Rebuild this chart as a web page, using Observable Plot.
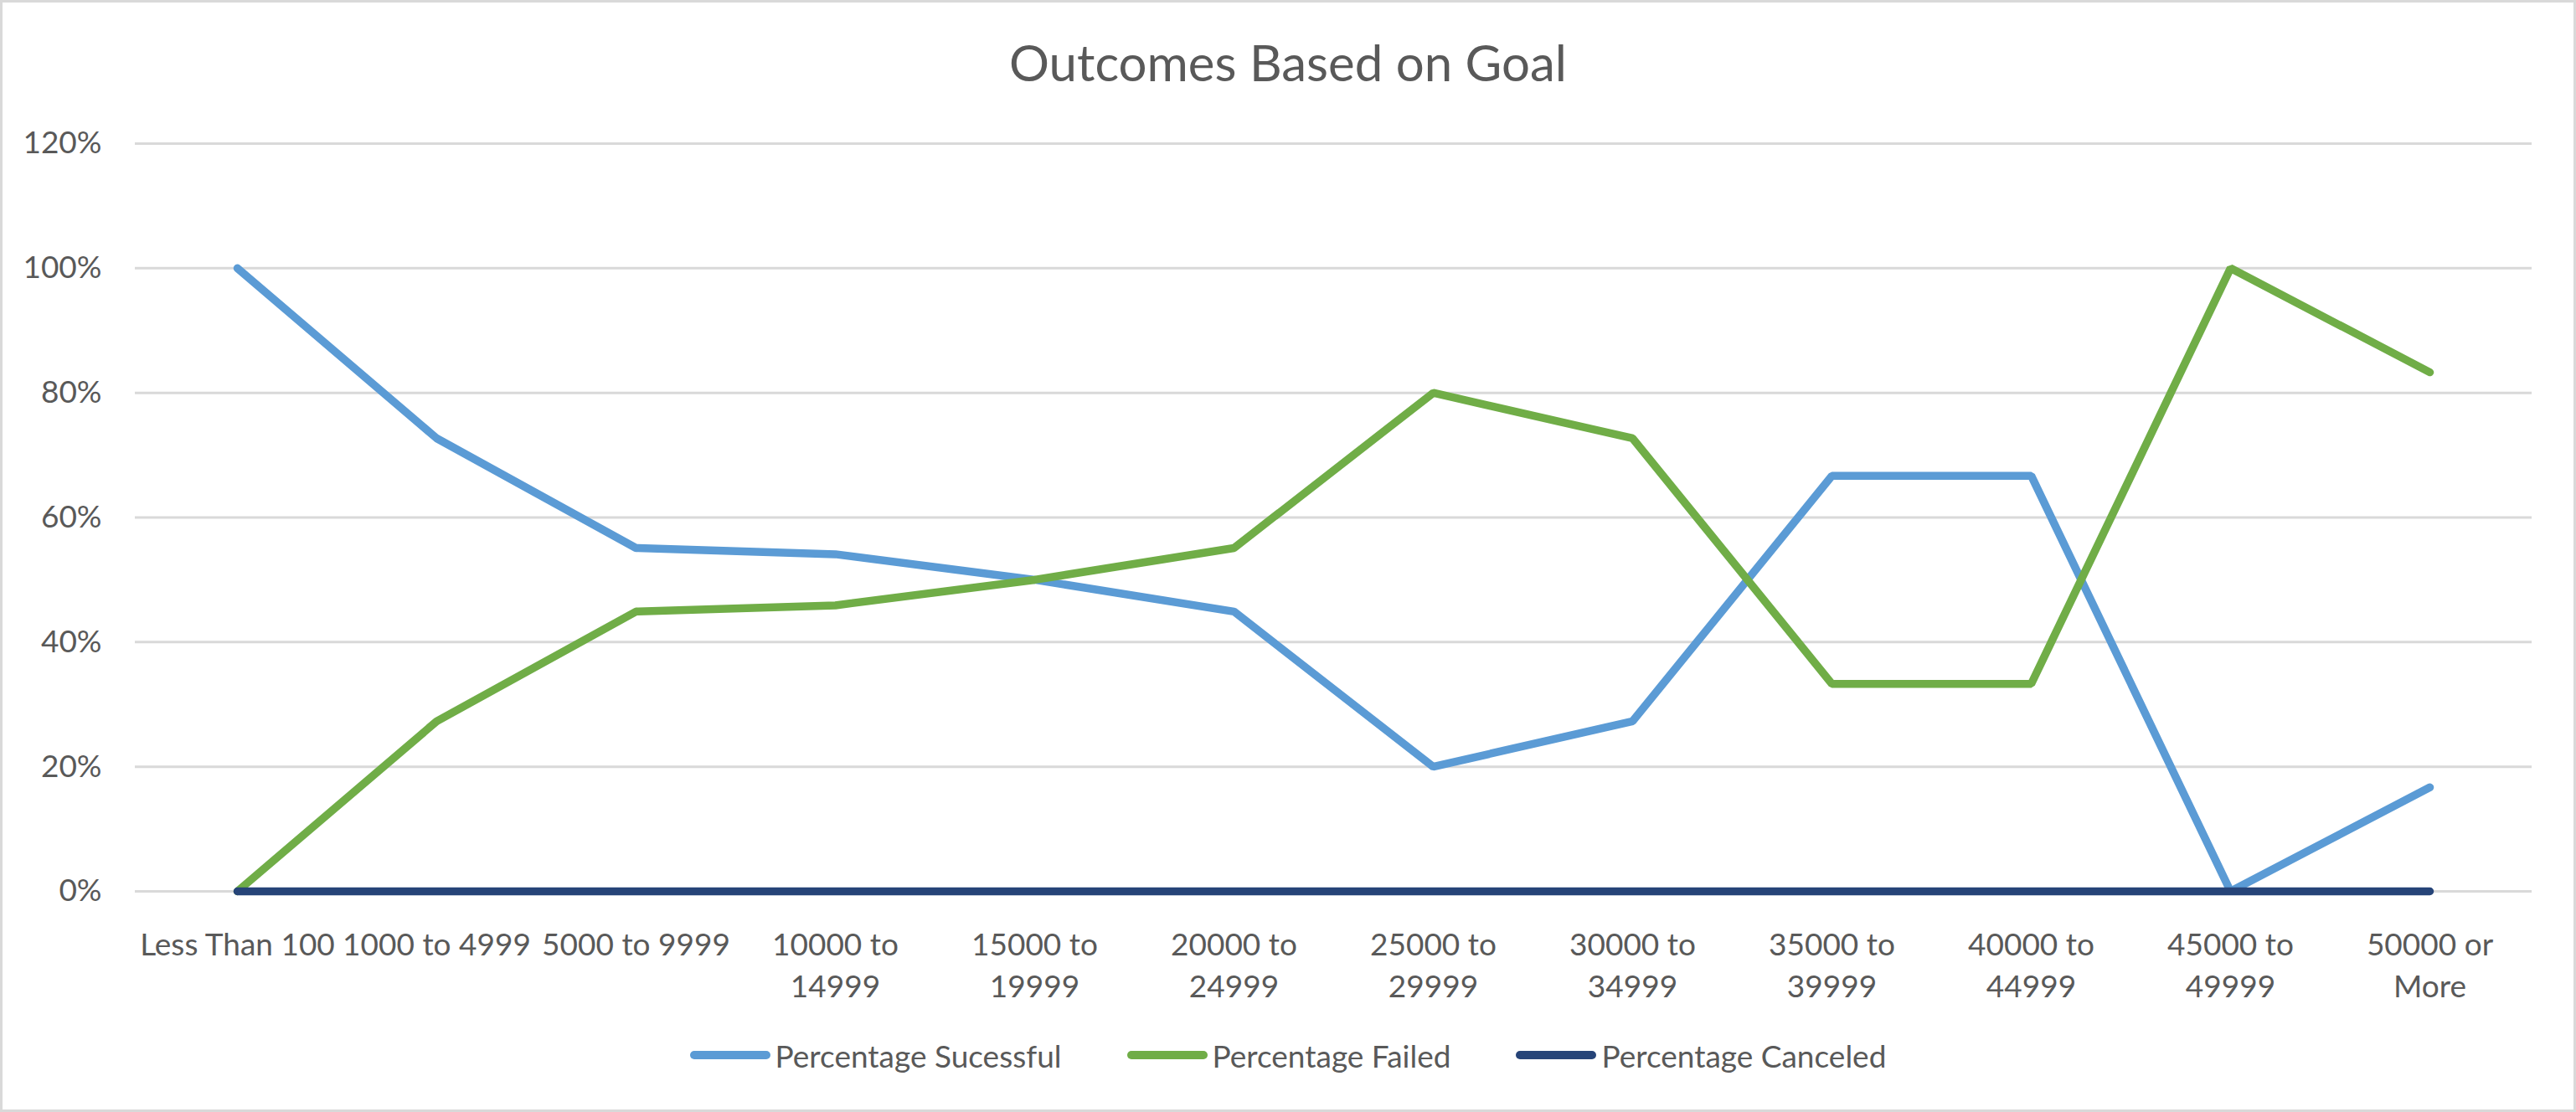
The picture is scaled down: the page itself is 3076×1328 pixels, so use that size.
<!DOCTYPE html>
<html>
<head>
<meta charset="utf-8">
<script src="https://cdn.jsdelivr.net/npm/d3@7"></script>
<script src="https://cdn.jsdelivr.net/npm/@observablehq/plot@0.6"></script>
<style>
  html, body { margin: 0; padding: 0; background: #fff; }
  #chart { position: relative; width: 3076px; height: 1328px; background: #fff; font-family: Lato, "Open Sans", sans-serif; color: #595959; overflow: hidden; }
  #frame { position: absolute; left: 0; top: 0; width: 3076px; height: 1328px; box-sizing: border-box; border: 3px solid #d9d9d9; pointer-events: none; }
  #title { position: absolute; left: 0; top: 44px; width: 3076px; text-align: center; font-size: 60px; line-height: 60px; color: #595959; }
  #plot { position: absolute; left: 0; top: 0; }
  #legend { position: absolute; left: 0; top: 1235px; width: 3076px; height: 50px; display: flex; justify-content: center; align-items: center; gap: 78px; font-size: 37px; color: #595959; }
  .item { display: flex; align-items: center; }
  .sw { width: 96px; height: 10px; border-radius: 5px; margin-right: 6px; }
</style>
</head>
<body>
<div id="chart">
  <div id="plot"></div>
  <div id="title"></div>
  <div id="legend"></div>
  <div id="frame"></div>
</div>
<script>
const titleText = "Outcomes Based on Goal";
const categories = ["Less Than 100", "1000 to 4999", "5000 to 9999", "10000 to 14999", "15000 to 19999", "20000 to 24999", "25000 to 29999", "30000 to 34999", "35000 to 39999", "40000 to 44999", "45000 to 49999", "50000 or More"];
const tickLabels = ["Less Than 100", "1000 to 4999", "5000 to 9999", "10000 to\n14999", "15000 to\n19999", "20000 to\n24999", "25000 to\n29999", "30000 to\n34999", "35000 to\n39999", "40000 to\n44999", "45000 to\n49999", "50000 or\nMore"];
const seriesNames = ["Percentage Sucessful", "Percentage Failed", "Percentage Canceled"];
const seriesColors = ["#5B9BD5", "#70AD47", "#264478"];
const successful = [100, 72.7, 55.1, 54.1, 50, 44.9, 20, 27.3, 66.7, 66.7, 0, 16.7];
const failed = [0, 27.3, 44.9, 45.9, 50, 55.1, 80, 72.7, 33.3, 33.3, 100, 83.3];
const canceled = [0, 0, 0, 0, 0, 0, 0, 0, 0, 0, 0, 0];
const yTicks = [0, 20, 40, 60, 80, 100, 120];

const seriesValues = [successful, failed, canceled];
const rows = [];
seriesNames.forEach((s, i) => {
  categories.forEach((c, j) => rows.push({series: s, category: c, value: seriesValues[i][j]}));
});

document.getElementById("title").textContent = titleText;

const plot = Plot.plot({
  width: 3076,
  height: 1200,
  marginTop: 171,
  marginBottom: 136,
  marginLeft: 161,
  marginRight: 53,
  style: {fontFamily: "Lato, 'Open Sans', sans-serif", fontSize: "37px", color: "#595959", background: "transparent"},
  x: {type: "point", domain: categories, padding: 0.5},
  y: {domain: [0, 120]},
  color: {domain: seriesNames, range: seriesColors},
  marks: [
    Plot.gridY(yTicks, {stroke: "#d9d9d9", strokeOpacity: 1, strokeWidth: 3}),
    Plot.axisY({ticks: yTicks, tickSize: 0, tickPadding: 40, tickFormat: d => d + "%", label: null, fontSize: 37}),
    Plot.axisX({tickSize: 0, tickPadding: 41, tickFormat: d => tickLabels[categories.indexOf(d)], label: null, fontSize: 37, lineHeight: 1.35}),
    ...seriesNames.map(s => Plot.lineY(rows.filter(r => r.series === s), {x: "category", y: "value", stroke: "series", strokeWidth: 9.5, strokeLinecap: "round", strokeLinejoin: "miter"}))
  ]
});
document.getElementById("plot").appendChild(plot);

const legend = document.getElementById("legend");
seriesNames.forEach((s, i) => {
  const item = document.createElement("div");
  item.className = "item";
  const sw = document.createElement("div");
  sw.className = "sw";
  sw.style.background = seriesColors[i];
  const t = document.createElement("span");
  t.textContent = s;
  item.appendChild(sw);
  item.appendChild(t);
  legend.appendChild(item);
});
</script>
</body>
</html>
